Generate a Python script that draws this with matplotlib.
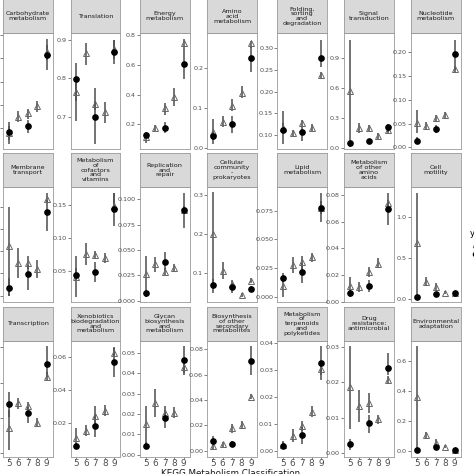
import numpy as np
import matplotlib
matplotlib.use("Agg")
import matplotlib.pyplot as plt
from matplotlib.lines import Line2D

# facet titles, read row by row
panels = [
    "Carbohydrate\nmetabolism", "Translation", "Energy\nmetabolism",
    "Amino\nacid\nmetabolism", "Folding,\nsorting\nand\ndegradation",
    "Signal\ntransduction", "Nucleotide\nmetabolism",
    "Membrane\ntransport", "Metabolism\nof\ncofactors\nand\nvitamins",
    "Replication\nand\nrepair", "Cellular\ncommunity\n-\nprokaryotes",
    "Lipid\nmetabolism", "Metabolism\nof other\namino\nacids", "Cell\nmotility",
    "Transcription", "Xenobiotics\nbiodegradation\nand\nmetabolism",
    "Glycan\nbiosynthesis\nand\nmetabolism",
    "Biosynthesis\nof other\nsecondary\nmetabolites",
    "Metabolism\nof\nterpenoids\nand\npolyketides",
    "Drug\nresistance:\nantimicrobial", "Environmental\nadaptation",
]

x_circle = [5, 7, 9]
x_tri = [5, 6, 7, 8, 9]

# black circles (mean, lower, upper)
circle_mean = [
    [0.084, 0.110, 0.414], [0.798, 0.700, 0.868], [0.127, 0.178, 0.603],
    [0.029, 0.059, 0.2235], [0.112, 0.1075, 0.277], [0.050, 0.073, 0.210],
    [0.0139, 0.0385, 0.1958],
    [0.068, 0.098, 0.238], [0.044, 0.048, 0.145], [0.0075, 0.038, 0.089],
    [0.0704, 0.0645, 0.059], [0.017, 0.0216, 0.0775], [0.0063, 0.0118, 0.0695],
    [0.024, 0.054, 0.066],
    [0.0238, 0.0212, 0.0353], [0.0058, 0.0184, 0.0573], [0.0044, 0.0181, 0.0464],
    [0.0079, 0.0053, 0.071], [0.00175, 0.0058, 0.0326], [0.0025, 0.0085, 0.0241],
    [0.003, 0.027, 0.005],
]
circle_lo = [
    [0.033, 0.081, 0.350], [0.740, 0.628, 0.837], [0.107, 0.140, 0.505],
    [0.009, 0.0375, 0.190], [0.0795, 0.0877, 0.2566], [0.035, 0.060, 0.166],
    [0.007, 0.0307, 0.163],
    [0.050, 0.063, 0.195], [0.035, 0.033, 0.119], [0.0042, 0.0304, 0.072],
    [0.051, 0.051, 0.0518], [0.013, 0.0126, 0.0654], [0.0038, 0.0071, 0.0575],
    [0.0, 0.030, 0.045],
    [0.0203, 0.0184, 0.0317], [0.0038, 0.0113, 0.0482], [0.0026, 0.0129, 0.0391],
    [0.0045, 0.0035, 0.0597], [0.0006, 0.0025, 0.0263], [0.0009, 0.0056, 0.022],
    [0.0, 0.018, 0.0],
]
circle_hi = [
    [0.126, 0.136, 0.481], [0.839, 0.740, 0.900], [0.151, 0.218, 0.700],
    [0.043, 0.079, 0.2525], [0.1555, 0.1235, 0.3176], [0.065, 0.090, 0.243],
    [0.0223, 0.0469, 0.226],
    [0.090, 0.119, 0.265], [0.055, 0.0635, 0.169], [0.0108, 0.0477, 0.106],
    [0.085, 0.0763, 0.0672], [0.0208, 0.0294, 0.0905], [0.0088, 0.0163, 0.0763],
    [0.045, 0.075, 0.090],
    [0.0274, 0.0231, 0.0404], [0.0079, 0.025, 0.0655], [0.0064, 0.0219, 0.0533],
    [0.0116, 0.0075, 0.0826], [0.0034, 0.0089, 0.0391], [0.0039, 0.0108, 0.0282],
    [0.008, 0.036, 0.012],
]

# open triangles (mean, lower, upper)
tri_mean = [
    [0.079, 0.150, 0.164, 0.196, 0.428], [0.765, 0.865, 0.733, 0.713, 0.876],
    [0.113, 0.178, 0.308, 0.386, 0.744], [0.040, 0.065, 0.104, 0.1375, 0.261],
    [0.116, 0.1045, 0.129, 0.1175, 0.2377], [0.573, 0.206, 0.206, 0.123, 0.183],
    [0.0518, 0.0448, 0.061, 0.068, 0.164],
    [0.161, 0.1226, 0.1226, 0.109, 0.267], [0.0405, 0.076, 0.0746, 0.0696, 0.1485],
    [0.0265, 0.036, 0.0287, 0.032, 0.089], [0.200, 0.107, 0.073, 0.045, 0.0806],
    [0.0098, 0.028, 0.0303, 0.0351, 0.0775], [0.0118, 0.0113, 0.022, 0.0283, 0.0743],
    [0.676, 0.207, 0.146, 0.073, 0.066],
    [0.0170, 0.0241, 0.0233, 0.0185, 0.0317], [0.0109, 0.0153, 0.024, 0.0275, 0.0628],
    [0.015, 0.0252, 0.0203, 0.0203, 0.0431], [0.0037, 0.0053, 0.0177, 0.0203, 0.0426],
    [0.002, 0.0055, 0.0092, 0.0145, 0.0304], [0.0186, 0.0133, 0.0141, 0.0097, 0.0206],
    [0.361, 0.105, 0.054, 0.027, 0.005],
]
tri_lo = [
    [0.050, 0.126, 0.140, 0.171, 0.393], [0.689, 0.835, 0.717, 0.684, 0.850],
    [0.073, 0.158, 0.263, 0.323, 0.700], [0.020, 0.051, 0.0925, 0.1235, 0.248],
    [0.1046, 0.098, 0.123, 0.110, 0.231], [0.016, 0.156, 0.173, 0.096, 0.150],
    [0.0295, 0.0364, 0.0539, 0.0589, 0.157],
    [0.049, 0.090, 0.111, 0.089, 0.257], [0.010, 0.059, 0.0696, 0.0625, 0.1424],
    [0.0042, 0.0287, 0.0252, 0.0287, 0.085], [0.075, 0.085, 0.0645, 0.040, 0.0747],
    [0.0005, 0.0213, 0.0245, 0.0308, 0.072], [0.0075, 0.0075, 0.0183, 0.0251, 0.068],
    [0.024, 0.155, 0.098, 0.060, 0.050],
    [0.0108, 0.0226, 0.0222, 0.0174, 0.0307], [0.0048, 0.0119, 0.0196, 0.024, 0.0604],
    [0.0026, 0.0183, 0.0178, 0.0178, 0.0402], [0.0006, 0.0032, 0.0142, 0.0169, 0.0405],
    [0.0005, 0.0034, 0.0074, 0.0124, 0.0282], [0.0068, 0.0089, 0.0113, 0.0083, 0.0195],
    [0.005, 0.076, 0.027, 0.020, 0.0],
]
tri_hi = [
    [0.110, 0.174, 0.183, 0.218, 0.457], [0.800, 0.893, 0.774, 0.737, 0.900],
    [0.140, 0.196, 0.342, 0.442, 0.771], [0.072, 0.078, 0.121, 0.155, 0.267],
    [0.127, 0.111, 0.136, 0.126, 0.244], [1.083, 0.250, 0.233, 0.150, 0.216],
    [0.0785, 0.0539, 0.068, 0.0749, 0.171],
    [0.248, 0.156, 0.139, 0.130, 0.281], [0.073, 0.0925, 0.0797, 0.0766, 0.169],
    [0.044, 0.0428, 0.032, 0.036, 0.093], [0.306, 0.130, 0.0832, 0.050, 0.0874],
    [0.015, 0.0351, 0.0357, 0.0386, 0.083], [0.0188, 0.015, 0.0263, 0.0326, 0.0818],
    [1.285, 0.261, 0.195, 0.090, 0.085],
    [0.0222, 0.0255, 0.0245, 0.0198, 0.0331], [0.017, 0.019, 0.030, 0.0311, 0.0664],
    [0.0239, 0.032, 0.0239, 0.0232, 0.0451], [0.0071, 0.0071, 0.021, 0.0237, 0.0447],
    [0.0035, 0.0083, 0.0112, 0.0166, 0.0319], [0.0302, 0.0178, 0.0169, 0.0108, 0.0218],
    [0.70, 0.127, 0.076, 0.035, 0.012],
]

# free y scales: limits, breaks and decimals of each facet
ylims = [
    (0.010, 0.507), (0.6146, 0.9175), (0.033, 0.811), (-0.004, 0.286),
    (0.068, 0.333), (-0.01, 1.15), (-0.004, 0.2399),
    (0.0365, 0.294), (0.003, 0.178), (-0.0007, 0.1118), (0.0278, 0.32),
    (-0.0038, 0.0954), (0.0, 0.086), (-0.037, 1.362),
    (0.0089, 0.0419), (-0.0006, 0.0701), (-0.001, 0.0559), (-0.0047, 0.0868),
    (-0.0022, 0.041), (-0.001, 0.0318), (-0.04, 0.736),
]
yticks = [
    [0.1, 0.2, 0.3, 0.4, 0.5], [0.7, 0.8, 0.9], [0.2, 0.4, 0.6, 0.8], [0.0, 0.1, 0.2],
    [0.10, 0.15, 0.20, 0.25, 0.30], [0.0, 0.3, 0.6, 0.9], [0.0, 0.05, 0.10, 0.15, 0.20],
    [0.05, 0.10, 0.15, 0.20, 0.25], [0.05, 0.10, 0.15], [0.0, 0.025, 0.05, 0.075, 0.1],
    [0.1, 0.2, 0.3], [0.0, 0.025, 0.05, 0.075], [0.0, 0.02, 0.04, 0.06, 0.08], [0.0, 0.5, 1.0],
    [0.01, 0.02, 0.03, 0.04], [0.02, 0.04, 0.06], [0.0, 0.01, 0.02, 0.03, 0.04, 0.05],
    [0.0, 0.02, 0.04, 0.06, 0.08], [0.0, 0.01, 0.02, 0.03, 0.04], [0.0, 0.01, 0.02, 0.03],
    [0.0, 0.2, 0.4, 0.6],
]
decimals = [1, 1, 1, 1, 2, 1, 2,
            2, 2, 3, 1, 3, 2, 1,
            2, 2, 2, 2, 2, 2, 1]

W = 474.0
col_left = [3, 70.7, 140, 207.3, 277.3, 344, 411]
panel_w = 49.5
row_box = [(33.3, 149.3), (187, 301.7), (340.7, 456.7)]
strip_h = 34.0

border = "#9a9a9a"
ink = "#4d4d4d"

fig = plt.figure(figsize=(4.74, 4.74), dpi=100)

for i, name in enumerate(panels):
    r, c = divmod(i, 7)
    top, bot = row_box[r]
    x0 = col_left[c] / W
    ax = fig.add_axes([x0, 1 - bot / W, panel_w / W, (bot - top) / W])

    # strip on top of each facet
    st = fig.add_axes([x0, 1 - top / W, panel_w / W, strip_h / W])
    st.set_facecolor("#d9d9d9")
    st.set_xticks([])
    st.set_yticks([])
    for s in st.spines.values():
        s.set_color(border)
        s.set_linewidth(0.6)
    st.text(0.5, 0.5, name, ha="center", va="center", fontsize=4.6,
            linespacing=0.95, color="#1a1a1a", transform=st.transAxes)

    ax.vlines(x_tri, tri_lo[i], tri_hi[i], color=ink, lw=1.1, zorder=2)
    ax.vlines(x_circle, circle_lo[i], circle_hi[i], color=ink, lw=1.1, zorder=2)
    ax.plot(x_tri, tri_mean[i], ls="none", marker="^", ms=4.6, mfc="none",
            mec="#666666", mew=0.7, zorder=3)
    ax.plot(x_circle, circle_mean[i], ls="none", marker="o", ms=3.8, color="black",
            zorder=4)

    ax.set_xlim(4.4, 9.6)
    ax.set_ylim(*ylims[i])
    ax.set_yticks(yticks[i])
    ax.set_yticklabels([f"{v:.{decimals[i]}f}" for v in yticks[i]])
    ax.tick_params(axis="y", length=2, width=0.5, color=ink, labelsize=4.6,
                   labelcolor=ink, pad=1)
    if r == 2:
        ax.set_xticks(x_tri)
        ax.tick_params(axis="x", length=1.5, width=0.5, color=ink, labelsize=6.4,
                       labelcolor=ink, pad=0.5)
    else:
        ax.set_xticks([])
    for s in ax.spines.values():
        s.set_color(border)
        s.set_linewidth(0.6)

fig.text(231 / W, 1 - 473.5 / W, "KEGG Metabolism Classification", ha="center",
         va="center", fontsize=6.3, color="#1a1a1a")

# legend, mostly outside the cropped picture
handles = [Line2D([], [], ls="none", marker="^", mfc="none", mec="#666666", ms=3),
           Line2D([], [], ls="none", marker="o", color="black", ms=3)]
fig.legend(handles, ["", ""], title="y", loc="upper left",
           bbox_to_anchor=(466 / W, 1 - 226 / W), frameon=False,
           fontsize=5, title_fontsize=6, handlelength=1.5, borderpad=0,
           alignment="left")

fig.savefig("out.png", dpi=100)
